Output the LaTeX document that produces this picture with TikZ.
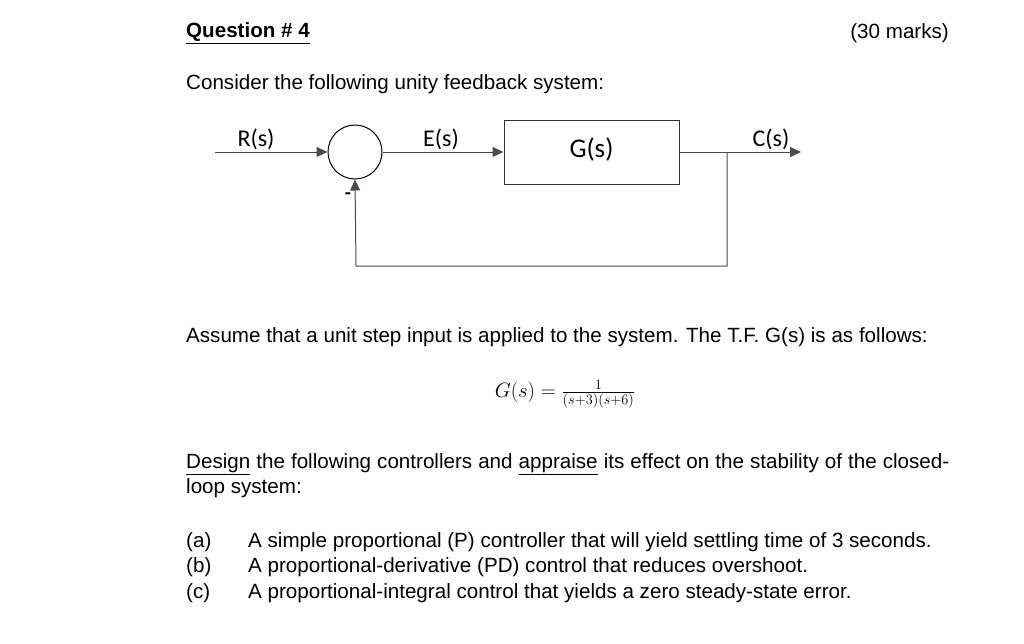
\documentclass[tikz,border=0pt]{standalone}
\usepackage{fontspec}
\setmainfont{Liberation Sans}
\newfontfamily\calib{Carlito}
\usetikzlibrary{arrows.meta}
\begin{document}
\begin{tikzpicture}[x=1pt,y=-1pt,
  txt/.style={anchor=west,inner sep=0pt,font=\fontsize{20.6}{25}\selectfont},
  lbl/.style={inner sep=0pt,font=\calib\fontsize{24}{28}\selectfont},
  sig/.style={draw=black!70,line width=1pt},
  arr/.style={sig,-{Triangle[length=11pt,width=10pt]}}]
\useasboundingbox (0,0) rectangle (1024,643);
% header
\node[txt] (q) at (186,33) {\bfseries\underline{Question \# 4}};
\node[txt,anchor=east] (m) at (949,33) {(30 marks)};
\node[txt] (t1) at (186,84) {Consider the following unity feedback system:};
% block diagram
\coordinate (in) at (215,152);
\node[draw,circle,line width=1pt,minimum size=54pt,inner sep=0pt] (sum) at (355,152) {};
\node[draw,line width=1pt,draw=black!80,minimum width=175pt,minimum height=64pt] (g) at (591.5,152) {};
\node[lbl,font=\calib\fontsize{27}{30}\selectfont] (gl) at (591.5,149) {G(s)};
\coordinate (br) at (727,152);
\coordinate (out) at (801,152);
\coordinate (bd) at (727,266);
\coordinate (bl) at (356,266);
\draw[arr] (in) -- (sum.west);
\draw[arr] (sum.east) -- (g.west);
\draw[sig] (g.east) -- (br);
\draw[arr] (br) -- (out);
\draw[arr] (br) -- (bd) -- (bl) -- (sum.south);
\node[lbl] (rl) at (256,139) {R(s)};
\node[lbl] (el) at (441,139) {E(s)};
\node[lbl] (cl) at (771,139) {C(s)};
\node[lbl,font=\calib\bfseries\fontsize{20}{24}\selectfont] (mn) at (348,196) {-};
% text
\node[txt] (t2) at (186,337) {Assume that a unit step input is applied to the system. The T.F. G(s) is as follows:};
\node[inner sep=0pt,font=\fontsize{20}{24}\selectfont] (eq) at (565,394) {$G(s)=\frac{1}{(s+3)(s+6)}$};
\node[txt,text width=763pt,align=justify,anchor=north west,font=\fontsize{20.6}{25}\selectfont] (t3) at (186,453)
  {\underline{Design} the following controllers and \underline{appraise} its effect on the stability of the closed-loop system:};
\node[txt] (a) at (186,542) {(a)};
\node[txt] (b) at (186,567) {(b)};
\node[txt] (c) at (186,593) {(c)};
\node[txt] (at) at (248,542) {A simple proportional (P) controller that will yield settling time of 3 seconds.};
\node[txt] (bt) at (248,567) {A proportional-derivative (PD) control that reduces overshoot.};
\node[txt] (ct) at (248,593) {A proportional-integral control that yields a zero steady-state error.};
\end{tikzpicture}
\end{document}
